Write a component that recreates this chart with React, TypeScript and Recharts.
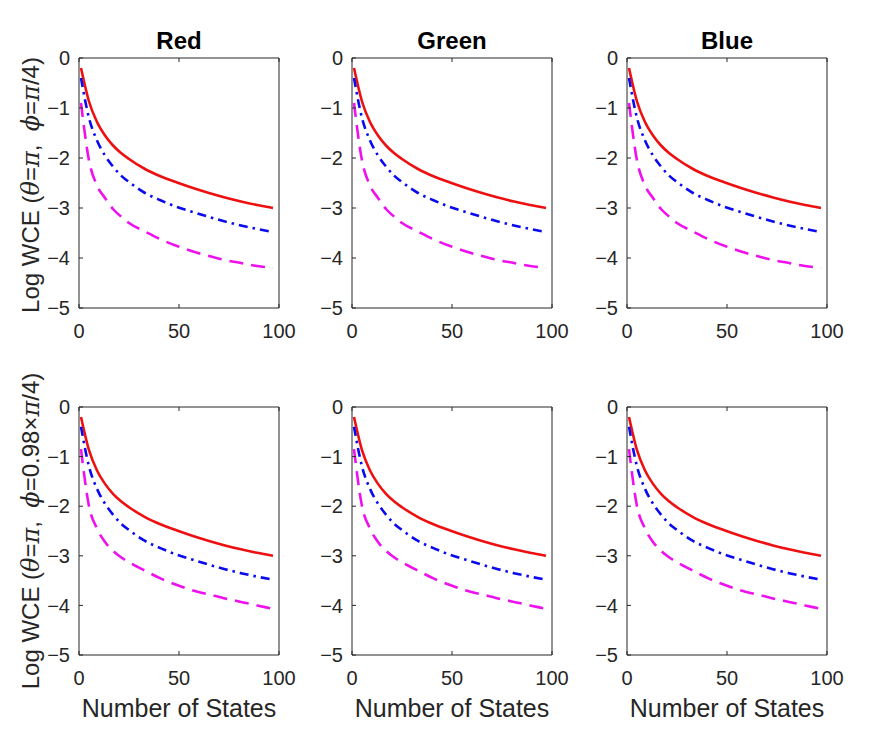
import { LineChart, Line, XAxis, YAxis, Label } from "recharts";

// number of states sampled on the x axis
const states = [1, 5, 9, 13, 17, 21, 25, 33, 41, 49, 57, 65, 73, 81, 89, 97];

// log worst-case error per series
const redErr = [-0.2, -0.87, -1.28, -1.55, -1.75, -1.9, -2.02, -2.22, -2.37, -2.49, -2.6, -2.7, -2.79, -2.87, -2.94, -3.0];
const blueErr = [-0.4, -1.2, -1.65, -1.95, -2.17, -2.35, -2.48, -2.7, -2.85, -2.98, -3.08, -3.18, -3.27, -3.35, -3.42, -3.48];
const magentaTop = [-0.9, -2.05, -2.55, -2.8, -3.02, -3.17, -3.3, -3.47, -3.63, -3.76, -3.87, -3.96, -4.04, -4.1, -4.16, -4.2];
const magentaBottom = [-0.85, -2.0, -2.45, -2.72, -2.9, -3.03, -3.13, -3.3, -3.46, -3.59, -3.7, -3.78, -3.86, -3.93, -4.0, -4.07];

const channels = ["Red", "Green", "Blue"];
const xTicks = [0, 50, 100];
const yTicks = [0, -1, -2, -3, -4, -5];

const AXIS = "#262626";
const SANS = "'Liberation Sans', Arial, Helvetica, sans-serif";
const GREEK = { fontFamily: "'DejaVu Serif', 'Liberation Serif', serif", fontStyle: "italic" as const };

const colLeft = [79, 352, 627];
const rowTop = [58, 407];
const rowHeight = [250, 248];
const PLOT_W = 200;

function buildRows(magenta: number[]) {
  return states.map((s, i) => ({ s, red: redErr[i], blue: blueErr[i], magenta: magenta[i] }));
}

const topData = buildRows(magentaTop);
const bottomData = buildRows(magentaBottom);

// matlab prints a real minus sign
const fmtY = (v: number) => (v < 0 ? `\u2212${Math.abs(v)}` : `${v}`);

interface PanelProps {
  data: ReturnType<typeof buildRows>;
  left: number;
  top: number;
  plotH: number;
  showXLabel: boolean;
}

function Panel({ data, left, top, plotH, showXLabel }: PanelProps) {
  const tickStyle = { fill: AXIS, fontSize: 20 };
  return (
    <div style={{ position: "absolute", left: left - 60, top: top - 40 }}>
      <LineChart
        width={60 + PLOT_W + 1 + 30}
        height={40 + plotH + 70}
        data={data}
        margin={{ top: 39, right: 30, bottom: 0, left: 0 }}
      >
        <XAxis
          xAxisId="b"
          dataKey="s"
          type="number"
          domain={[0, 100]}
          ticks={xTicks}
          height={70}
          tick={tickStyle}
          tickSize={-4}
          tickMargin={20}
          stroke={AXIS}
          interval={0}
        >
          {showXLabel && (
            <Label value="Number of States" position="insideBottom" offset={8} fill={AXIS} fontSize={25} />
          )}
        </XAxis>
        <XAxis
          xAxisId="t"
          dataKey="s"
          type="number"
          orientation="top"
          domain={[0, 100]}
          ticks={xTicks}
          height={1}
          tick={() => <g />}
          tickSize={-4}
          stroke={AXIS}
        />
        <YAxis
          yAxisId="l"
          type="number"
          domain={[-5, 0]}
          ticks={yTicks}
          width={60}
          tick={tickStyle}
          tickFormatter={fmtY}
          tickSize={-4}
          tickMargin={13}
          stroke={AXIS}
          interval={0}
        />
        <YAxis
          yAxisId="r"
          type="number"
          orientation="right"
          domain={[-5, 0]}
          ticks={yTicks}
          width={1}
          tick={() => <g />}
          tickSize={-4}
          stroke={AXIS}
        />
        <Line xAxisId="b" yAxisId="l" type="monotone" dataKey="red" stroke="#ee1010" strokeWidth={2.6} dot={false} isAnimationActive={false} />
        <Line xAxisId="b" yAxisId="l" type="monotone" dataKey="blue" stroke="#0a0aee" strokeWidth={2.6} strokeDasharray="9 5 2.5 5" dot={false} isAnimationActive={false} />
        <Line xAxisId="b" yAxisId="l" type="monotone" dataKey="magenta" stroke="#ee10ee" strokeWidth={2.6} strokeDasharray="14 8" dot={false} isAnimationActive={false} />
      </LineChart>
    </div>
  );
}

function YTitle({ cy, phi }: { cy: number; phi: React.ReactNode }) {
  return (
    <div
      style={{
        position: "absolute",
        left: 31,
        top: cy,
        transform: "translate(-50%, -50%) rotate(-90deg)",
        whiteSpace: "nowrap",
        fontSize: 24,
        color: AXIS,
        lineHeight: 1,
      }}
    >
      Log WCE (<span style={GREEK}>θ</span>=<span style={GREEK}>π</span>,&nbsp; <span style={GREEK}>ϕ</span>={phi})
    </div>
  );
}

export default function App() {
  return (
    <div
      style={{
        position: "absolute",
        left: 0,
        top: 0,
        width: 880,
        height: 738,
        background: "#fff",
        fontFamily: SANS,
        overflow: "hidden",
      }}
    >
      {channels.map((name, c) => (
        <div
          key={name}
          style={{
            position: "absolute",
            left: colLeft[c],
            top: 29,
            width: PLOT_W,
            textAlign: "center",
            fontWeight: "bold",
            fontSize: 24,
            lineHeight: 1,
            color: "#000",
          }}
        >
          {name}
        </div>
      ))}
      {colLeft.map((x, c) => (
        <Panel key={"t" + c} data={topData} left={x} top={rowTop[0]} plotH={rowHeight[0]} showXLabel={false} />
      ))}
      {colLeft.map((x, c) => (
        <Panel key={"b" + c} data={bottomData} left={x} top={rowTop[1]} plotH={rowHeight[1]} showXLabel={true} />
      ))}
      <YTitle cy={185} phi={<><span style={GREEK}>π</span>/4</>} />
      <YTitle cy={531} phi={<>0.98×<span style={GREEK}>π</span>/4</>} />
    </div>
  );
}
